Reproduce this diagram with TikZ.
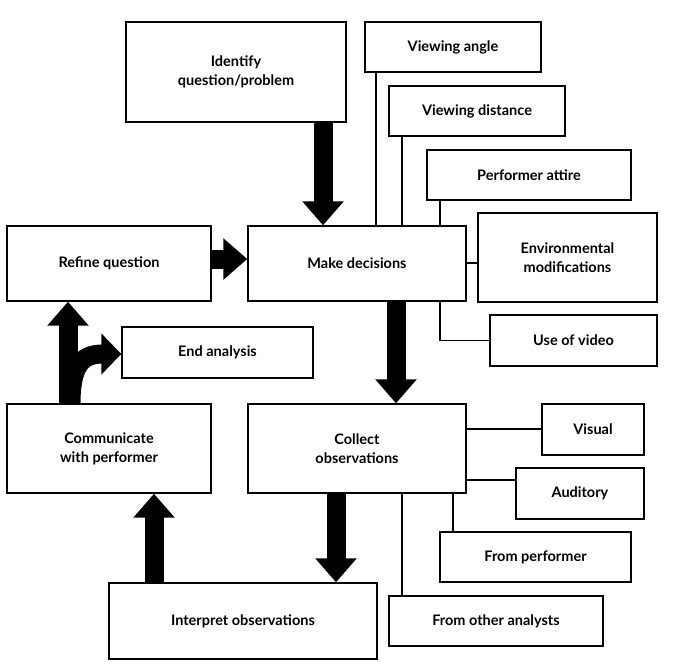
\documentclass[tikz,border=0pt]{standalone}
\usepackage{fontspec}
\setmainfont{Lato}
\usetikzlibrary{arrows.meta}
\begin{document}
\begin{tikzpicture}[x=1pt,y=-1pt,
  box/.style={draw,line width=1.4pt,align=center,font=\fontsize{14.5}{19}\selectfont\bfseries},
  ln/.style={line width=1.4pt},
  fat/.style={line width=19pt,-{Triangle[width=40pt,length=24pt]}}]
\useasboundingbox (0,0) rectangle (688,670);
\newcommand{\bx}[6]{\node[box,minimum width=#4-#2,minimum height=#5-#3] (#1) at ({(#2+#4)/2},{(#3+#5)/2}) {#6};}
\bx{idq}{126}{22}{346}{122}{Identify\\question/problem}
\bx{va}{365}{22}{541}{72}{Viewing angle}
\bx{vd}{389}{86}{565}{136}{Viewing distance}
\bx{pa}{427}{150}{631}{200}{Performer attire}
\bx{em}{478}{213}{657}{302}{Environmental\\modifications}
\bx{uv}{490}{315}{657}{366}{Use of video}
\bx{rq}{7}{226}{211}{301}{Refine question}
\bx{md}{248}{226}{466}{301}{Make decisions}
\bx{ea}{122}{327}{313}{378}{End analysis}
\bx{cp}{7}{404}{211}{493}{Communicate\\with performer}
\bx{co}{248}{404}{466}{493}{Collect\\observations}
\bx{vi}{542}{404}{644}{455}{Visual}
\bx{au}{516}{468}{644}{519}{Auditory}
\bx{fp}{440}{532}{631}{582}{From performer}
\bx{fo}{389}{596}{603}{646}{From other analysts}
\bx{io}{109}{583}{377}{659}{Interpret observations}
% thin connectors
\draw[ln] (md.north -| 376,0) -- (va.south -| 376,0);
\draw[ln] (md.north -| 402,0) -- (vd.south -| 402,0);
\draw[ln] (md.north -| 440,0) -- (pa.south -| 440,0);
\draw[ln] (md.east |- 0,263) -- (em.west |- 0,263);
\draw[ln] (md.south -| 440,0) |- (uv.west);
\draw[ln] (co.east |- 0,429) -- (vi.west |- 0,429);
\draw[ln] (co.east |- 0,480) -- (au.west |- 0,480);
\draw[ln] (co.south -| 453,0) -- (fp.north -| 453,0);
\draw[ln] (co.south -| 402,0) -- (fo.north -| 402,0);
% fat arrows
\draw[fat] (idq.south -| 323,0) -- (md.north -| 323,0);
\draw[fat] (rq.east |- 0,259) -- (md.west |- 0,259);
\draw[fat] (md.south -| 396,0) -- (co.north -| 396,0);
\draw[fat] (co.south -| 336,0) -- (io.north -| 336,0);
\draw[fat] (io.north -| 154,0) -- (cp.south -| 154,0);
\draw[fat] (cp.north -| 68,0) -- (rq.south -| 68,0);
\draw[line width=19pt,-{Triangle[width=40pt,length=20pt]}] (71,404) .. controls (71,368) and (80,354) .. (ea.west |- 0,354);
\end{tikzpicture}
\end{document}
